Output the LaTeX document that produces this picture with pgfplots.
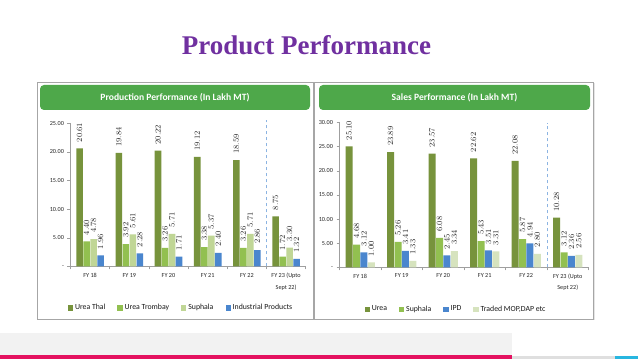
\documentclass[border=0pt]{standalone}
\usepackage{fontspec}
\setmainfont{Carlito}
\newfontfamily\titlefont{Liberation Serif}
\newfontfamily\labfont{DejaVu Sans Mono}
\usepackage{pgfplots}
\usepackage{pgfplotstable}
\pgfplotsset{compat=1.18}

\definecolor{ut}{RGB}{119,147,60}
\definecolor{utr}{RGB}{146,192,80}
\definecolor{sup}{RGB}{192,214,150}
\definecolor{ind}{RGB}{74,134,206}
\definecolor{trd}{RGB}{214,227,190}
\definecolor{hdr}{RGB}{78,168,74}
\definecolor{ttl}{RGB}{112,48,160}
\definecolor{pink}{RGB}{228,18,96}
\definecolor{cyanb}{RGB}{40,182,224}
\definecolor{dash}{RGB}{140,180,226}

\pgfplotstableread{
x ut utr sup ind
0 20.61 4.40 4.78 1.96
1 19.84 3.92 5.61 2.28
2 20.22 3.26 5.71 1.71
3 19.12 3.38 5.37 2.40
4 18.59 3.26 5.71 2.86
5 8.75 1.72 3.30 1.32
}\prodtab

\pgfplotstableread{
x urea sup ipd trd
0 25.10 4.68 3.12 1.00
1 23.89 5.26 3.41 1.33
2 23.57 6.08 2.45 3.34
3 22.62 5.43 3.51 3.31
4 22.08 5.87 4.94 2.80
5 10.28 3.12 2.36 2.56
}\saletab

\pgfplotsset{
  panel/.style={
    scale only axis, anchor=south west, clip=false,
    xmin=-0.5, xmax=5.5, ymin=0,
    ybar=0.4pt,
    axis x line*=bottom, axis y line*=left,
    axis line style={-, draw=gray!75, line width=0.6pt},
    tick align=outside,
    major tick length=3pt,
    tick style={draw=gray!75, line width=0.6pt},
    xtick={-0.5,0.5,1.5,2.5,3.5,4.5,5.5},
    xticklabels={},
    extra x ticks={0,1,2,3,4,5},
    extra x tick labels={FY 18,FY 19,FY 20,FY 21,FY 22,{FY 23 (Upto\\Sept 22)}},
    extra x tick style={major tick length=0pt, xticklabel style={align=center, font=\fontsize{6.2}{11.5}\selectfont, text=black!85, yshift=-3pt}},
    yticklabel style={font=\fontsize{6.2}{7}\selectfont, text=black!85},
    nodes near coords={\pgfmathprintnumber[fixed,fixed zerofill,precision=2]{\pgfplotspointmeta}},
    every node near coord/.append style={rotate=90, anchor=west, font=\labfont\bfseries\fontsize{7.8}{9}\selectfont, text=black!85, inner xsep=6pt, inner ysep=0.5pt},
    legend columns=4,
    legend image code/.code={\fill[#1, draw=none] (0pt,-2.6pt) rectangle (5.2pt,2.6pt);},
    legend style={draw=none, fill=none, font=\fontsize{7.8}{8}\selectfont, text=black!90,
      /tikz/every even column/.append style={column sep=10pt}},
  }
}

\begin{document}
\begin{tikzpicture}
\useasboundingbox (0pt,0pt) rectangle (638pt,359pt);
\fill[white] (0pt,0pt) rectangle (638pt,359pt);

% bottom decoration
\fill[gray!10] (0pt,4pt) rectangle (512pt,26pt);
\fill[pink] (0pt,0pt) rectangle (512pt,4pt);
\fill[gray!25] (512pt,0pt) rectangle (615pt,3pt);
\fill[cyanb] (615pt,0pt) rectangle (638pt,3pt);

% title
\node[anchor=base, text=ttl, font=\titlefont\bfseries\fontsize{27}{30}\selectfont] at (306.5pt,304pt) {Product Performance};

% panels
\fill[gray!20] (38.5pt,38.5pt) rectangle (314.5pt,275.5pt);
\filldraw[fill=white, draw=gray!70, line width=0.7pt] (37pt,40pt) rectangle (313pt,277pt);
\fill[gray!20] (315.5pt,38.5pt) rectangle (594.5pt,275.5pt);
\filldraw[fill=white, draw=gray!70, line width=0.7pt] (314pt,40pt) rectangle (593pt,277pt);

\fill[hdr, rounded corners=4pt] (40pt,249pt) rectangle (310pt,274pt);
\fill[hdr, rounded corners=4pt] (319pt,249pt) rectangle (590pt,274pt);
\node[text=white, font=\bfseries\fontsize{9.6}{10}\selectfont] at (175pt,261.5pt) {Production Performance (In Lakh MT)};
\node[text=white, font=\bfseries\fontsize{9.6}{10}\selectfont] at (454.5pt,261.5pt) {Sales Performance (In Lakh MT)};

% left chart
\begin{axis}[panel,
  at={(70.5pt,92.5pt)}, width=235.2pt, height=143.2pt,
  ymax=25, ytick={0,5,10,15,20,25},
  yticklabels={-,5.00,10.00,15.00,20.00,25.00},
  bar width=6.6pt,
  legend style={at={(0.47,-0.29)}, anchor=center},
]
\addplot[fill=ut, draw=none] table[x=x,y=ut]{\prodtab};
\addplot[fill=utr, draw=none] table[x=x,y=utr]{\prodtab};
\addplot[fill=sup, draw=none] table[x=x,y=sup]{\prodtab};
\addplot[fill=ind, draw=none] table[x=x,y=ind]{\prodtab};
\legend{Urea Thal,Urea Trombay,Suphala,Industrial Products}
\draw[dashed, draw=dash, line width=0.6pt] (axis cs:4.5,0) -- (axis cs:4.5,25.5);
\end{axis}

% right chart
\begin{axis}[panel,
  at={(339.5pt,91.7pt)}, width=249pt, height=144.6pt,
  ymax=30, ytick={0,5,10,15,20,25,30},
  yticklabels={-,5.00,10.00,15.00,20.00,25.00,30.00},
  bar width=7pt,
  legend style={at={(0.468,-0.29)}, anchor=center},
]
\addplot[fill=ut, draw=none] table[x=x,y=urea]{\saletab};
\addplot[fill=utr, draw=none] table[x=x,y=sup]{\saletab};
\addplot[fill=ind, draw=none] table[x=x,y=ipd]{\saletab};
\addplot[fill=trd, draw=none] table[x=x,y=trd]{\saletab};
\legend{Urea,Suphala,IPD,{Traded MOP,DAP etc}}
\draw[dashed, draw=dash, line width=0.6pt] (axis cs:4.5,0) -- (axis cs:4.5,30);
\end{axis}
\end{tikzpicture}
\end{document}
